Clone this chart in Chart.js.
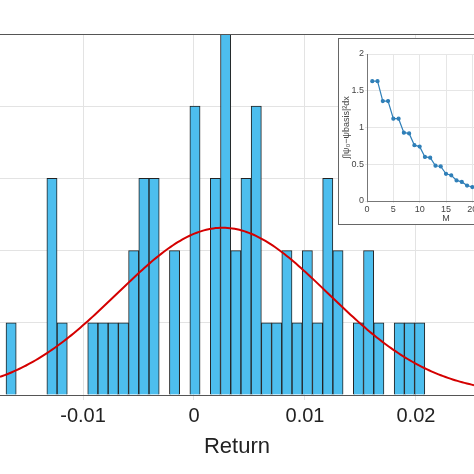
<!DOCTYPE html>
<html>
<head>
<meta charset="utf-8">
<script src="https://cdn.jsdelivr.net/npm/chart.js@4.4.0/dist/chart.umd.min.js"></script>
<style>
  html, body { margin: 0; padding: 0; background: #fff; overflow: hidden; }
  #wrap { position: relative; width: 474px; height: 474px; overflow: hidden; }
  #main { position: absolute; left: 0; top: 0; }
  #insetBox { position: absolute; left: 338px; top: 38px; width: 200px; height: 187px;
              background: #fff; border: 1px solid #666; box-sizing: border-box; }
  #inset { position: absolute; left: 0; top: 0; }
</style>
</head>
<body>
<div id="wrap">
  <canvas id="main" width="474" height="474"></canvas>
  <div id="insetBox"><canvas id="inset" width="198" height="185"></canvas></div>
</div>
<script>
// Histogram of returns (bin index -> count)
const binStart = -0.016939;
const binWidth = 0.0009204;
const binIndex = [0, 4, 5, 8, 9, 10, 11, 12, 13, 14, 16, 18, 20, 21, 22, 23, 24, 25, 26, 27, 28, 29, 30, 31, 32, 34, 35, 36, 38, 39, 40];
const binCount = [1, 3, 1, 1, 1, 1, 1, 2, 3, 3, 2, 4, 3, 5, 2, 3, 4, 1, 1, 2, 1, 2, 1, 3, 2, 1, 2, 1, 1, 1, 1];
const xTicks = [-0.01, 0, 0.01, 0.02];

// Fitted normal curve
const fitMu = 0.002583;
const fitSigma = 0.00951;
const sampleCount = 60;

// Inset: error vs M
const insetM = [1, 2, 3, 4, 5, 6, 7, 8, 9, 10, 11, 12, 13, 14, 15, 16, 17, 18, 19, 20, 21];
const insetErr = [1.63, 1.63, 1.36, 1.36, 1.12, 1.12, 0.93, 0.92, 0.76, 0.74, 0.60, 0.59, 0.48, 0.47, 0.37, 0.35, 0.28, 0.26, 0.21, 0.19, 0.18];

const xMin = -0.01748, xMax = 0.02523;

const bars = binIndex.map((k, i) => ({ x: binStart + (k + 0.5) * binWidth, y: binCount[i] }));
const curve = [];
for (let i = 0; i <= 200; i++) {
    const x = xMin + (xMax - xMin) * i / 200;
    const z = (x - fitMu) / fitSigma;
    curve.push({ x: x, y: sampleCount * binWidth / (fitSigma * Math.sqrt(2 * Math.PI)) * Math.exp(-0.5 * z * z) });
}

const topLine = {
    id: 'topLine',
    afterDraw(chart) {
        const a = chart.chartArea, c = chart.ctx;
        c.save();
        c.strokeStyle = '#555';
        c.lineWidth = 1;
        c.beginPath();
        c.moveTo(a.left, a.top + 0.5);
        c.lineTo(a.right, a.top + 0.5);
        c.stroke();
        c.restore();
    }
};

new Chart(document.getElementById('main'), {
    type: 'bar',
    data: {
        datasets: [
            {
                type: 'line',
                data: curve,
                borderColor: '#d40000',
                borderWidth: 2,
                pointRadius: 0,
                tension: 0,
                order: 0
            },
            {
                data: bars,
                backgroundColor: '#4dbeee',
                borderColor: '#222',
                borderWidth: 1,
                barPercentage: 1,
                categoryPercentage: 1,
                order: 1
            }
        ]
    },
    options: {
        responsive: false,
        animation: false,
        layout: { padding: { top: 34, left: 0, right: 0, bottom: 0 } },
        plugins: { legend: { display: false }, tooltip: { enabled: false } },
        scales: {
            x: {
                type: 'linear',
                offset: false,
                bounds: 'ticks',
                min: xMin,
                max: xMax,
                afterBuildTicks(s) { s.ticks = xTicks.map(v => ({ value: v })); },
                afterFit(s) { s.height = 79; },
                grid: { color: '#e3e3e3', drawTicks: true, tickLength: 5, offset: false },
                border: { color: '#555' },
                ticks: {
                    color: '#222',
                    font: { family: 'Liberation Sans', size: 20 },
                    padding: 4,
                    maxRotation: 0,
                    callback: v => v === 0 ? '0' : String(v)
                },
                title: { display: true, text: 'Return', color: '#222', font: { family: 'Liberation Sans', size: 22 }, padding: { top: 0, bottom: 14 } }
            },
            y: {
                min: 0,
                max: 5,
                afterFit(s) { s.width = 0; },
                ticks: { display: false, stepSize: 1 },
                grid: { color: '#e3e3e3', drawTicks: false },
                border: { display: false }
            }
        }
    },
    plugins: [topLine]
});

new Chart(document.getElementById('inset'), {
    type: 'line',
    data: {
        datasets: [{
            data: insetM.map((m, i) => ({ x: m, y: insetErr[i] })),
            borderColor: '#2f7fb8',
            backgroundColor: '#2f7fb8',
            borderWidth: 1.2,
            pointRadius: 1.5,
            tension: 0
        }]
    },
    options: {
        responsive: false,
        animation: false,
        layout: { padding: { top: 15, left: 2, right: 12, bottom: 0 } },
        plugins: { legend: { display: false }, tooltip: { enabled: false } },
        scales: {
            x: {
                type: 'linear',
                min: 0,
                max: 30,
                afterFit(s) { s.height = 23; },
                ticks: { stepSize: 5, color: '#444', font: { family: 'Liberation Sans', size: 9 }, padding: 1, maxRotation: 0 },
                grid: { color: '#e6e6e6', tickLength: 2 },
                border: { color: '#777' },
                title: { display: true, text: 'M', color: '#444', font: { family: 'Liberation Sans', size: 9 }, padding: 0 }
            },
            y: {
                min: 0,
                max: 2,
                afterFit(s) { s.width = 26; },
                ticks: { stepSize: 0.5, color: '#444', font: { family: 'Liberation Sans', size: 9 }, padding: 1,
                         callback: v => String(+v.toFixed(1)) },
                grid: { color: '#e6e6e6', tickLength: 2 },
                border: { color: '#777' },
                title: { display: true, text: '∫|ψ₀−ψbasis|²dx', color: '#444', font: { family: 'Liberation Sans', size: 9 }, padding: 0 }
            }
        }
    }
});
</script>
</body>
</html>
